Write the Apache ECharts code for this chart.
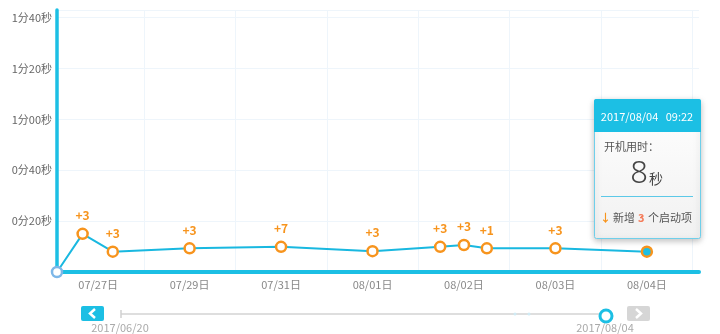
<!DOCTYPE html>
<html><head><meta charset="utf-8">
<script src="https://cdn.jsdelivr.net/npm/echarts@6/dist/echarts.min.js"></script>
<style>html,body{margin:0;padding:0;background:#fff}#c{width:720px;height:334px}</style>
</head><body><div id="c"></div>
<script>
// ---- data ----
const dayLabels = ['07/27日', '07/29日', '07/31日', '08/01日', '08/02日', '08/03日', '08/04日'];
const dayCenters = [0, 1, 2, 3, 4, 5, 6];
const dayBounds = [0.5, 1.5, 2.5, 3.5, 4.5, 5.5, 6.5];
// position of each boot along the day slots (slot index + offset within slot)
const bootPos = [-0.45, -0.17, 0.16, 1.0, 2.0, 3.0, 3.74, 4.0, 4.25, 5.0, 6.0];
const bootSeconds = [0, 15, 8, 9.3, 9.9, 8.2, 9.9, 10.6, 9.3, 9.3, 8];
const addedItems = [null, 3, 3, 3, 7, 3, 3, 3, 1, 3, 3];
const yTicks = [0, 20, 40, 60, 80, 100];
const timelineDates = ['2017/06/20', '2017/08/04'];
const tipDate = '2017/08/04';
const tipTime = '09:22';

const CYAN = '#1cbfe4';
const ORANGE = '#f7941d';
const FONT = '"Noto Sans CJK SC", "Noto Sans", sans-serif';

function fmtSec(v) {
  if (v === 0) return '';
  const m = Math.floor(v / 60), s = v % 60;
  return m + '分' + (s < 10 ? '0' + s : s) + '秒';
}

const lastIdx = bootPos.length - 1;
const seriesData = bootPos.map((x, i) => {
  const item = { value: [x, bootSeconds[i]] };
  if (i === 0) {
    item.symbolSize = 10;
    item.itemStyle = { color: '#fff', borderColor: '#7db7e8', borderWidth: 2.5 };
    item.label = { show: false };
  } else if (i === lastIdx) {
    item.itemStyle = { color: CYAN, borderColor: ORANGE, borderWidth: 2.5 };
  }
  return item;
});

const chart = echarts.init(document.getElementById('c'), null, { renderer: 'canvas' });

// tooltip-like card and timeline drawn as graphics
const cardX = 594, cardY = 99, cardW = 106, cardH = 139;
const graphics = [
  { type: 'rect', left: cardX, top: cardY, z: 100,
    shape: { width: cardW, height: cardH, r: 2 },
    style: { fill: new echarts.graphic.LinearGradient(0, 0, 0, 1, [{ offset: 0, color: '#ffffff' }, { offset: 1, color: '#f1f1f1' }]),
             stroke: '#6fcfea', lineWidth: 1, shadowBlur: 6, shadowColor: 'rgba(0,0,0,0.25)', shadowOffsetY: 2 } },
  { type: 'rect', left: cardX, top: cardY, z: 101, shape: { width: cardW + 1, height: 33, r: [2, 2, 0, 0] }, style: { fill: CYAN } },
  { type: 'text', x: cardX + cardW / 2, y: cardY + 18, z: 102,
    style: { text: tipDate + '   ' + tipTime, fill: '#fff', font: '11px ' + FONT, align: 'center', verticalAlign: 'middle' } },
  { type: 'text', x: cardX + 10, y: cardY + 48, z: 102,
    style: { text: '开机用时：', fill: '#555', font: '11px ' + FONT, verticalAlign: 'middle' } },
  { type: 'text', x: cardX + 54, y: cardY + 75, z: 102,
    style: { text: String(bootSeconds[lastIdx]), fill: '#444', font: '300 31px "Noto Sans", sans-serif', align: 'right', verticalAlign: 'middle' } },
  { type: 'text', x: cardX + 55, y: cardY + 80, z: 102,
    style: { text: '秒', fill: '#444', font: '14px ' + FONT, align: 'left', verticalAlign: 'middle' } },
  { type: 'line', z: 102, shape: { x1: cardX + 7, y1: cardY + 97.5, x2: cardX + 99, y2: cardY + 97.5 }, style: { stroke: '#5cc9e8', lineWidth: 1 } },
  { type: 'text', x: cardX + 6, y: cardY + 119, z: 102,
    style: { text: '↓', fill: ORANGE, font: 'bold 11px ' + FONT, verticalAlign: 'middle' } },
  { type: 'text', x: cardX + 19, y: cardY + 119, z: 102,
    style: { text: '新增', fill: '#555', font: '11px ' + FONT, verticalAlign: 'middle' } },
  { type: 'text', x: cardX + 44, y: cardY + 119, z: 102,
    style: { text: String(addedItems[lastIdx]), fill: '#f47c5a', font: 'bold 11px ' + FONT, verticalAlign: 'middle' } },
  { type: 'text', x: cardX + 54, y: cardY + 119, z: 102,
    style: { text: '个启动项', fill: '#555', font: '11px ' + FONT, verticalAlign: 'middle' } },

  // timeline
  { type: 'line', shape: { x1: 121, y1: 314, x2: 604, y2: 314 }, style: { stroke: '#dedede', lineWidth: 2 } },
  { type: 'line', shape: { x1: 121, y1: 310, x2: 121, y2: 318 }, style: { stroke: '#d0d0d0', lineWidth: 1.5 } },
  { type: 'circle', shape: { cx: 515, cy: 314, r: 1.5 }, style: { fill: '#cfeaf4' } },
  { type: 'circle', shape: { cx: 529, cy: 314, r: 1.5 }, style: { fill: '#cfeaf4' } },
  { type: 'rect', shape: { x: 81, y: 306, width: 23, height: 15, r: 2 }, style: { fill: CYAN } },
  { type: 'polyline', shape: { points: [[95, 309], [90, 313.5], [95, 318]] }, style: { stroke: '#fff', lineWidth: 2.5, fill: 'none' } },
  { type: 'rect', shape: { x: 627, y: 306, width: 23, height: 15, r: 2 }, style: { fill: '#d6d6d6' } },
  { type: 'polyline', shape: { points: [[636, 309], [641, 313.5], [636, 318]] }, style: { stroke: '#fff', lineWidth: 2.5, fill: 'none' } },
  { type: 'circle', shape: { cx: 606, cy: 316, r: 6 }, style: { fill: '#fff', stroke: CYAN, lineWidth: 3 } },
  { type: 'text', x: 120, y: 328, style: { text: timelineDates[0], fill: '#aaa', font: '11px ' + FONT, align: 'center', verticalAlign: 'middle' } },
  { type: 'text', x: 605, y: 328, style: { text: timelineDates[1], fill: '#aaa', font: '11px ' + FONT, align: 'center', verticalAlign: 'middle' } }
];

chart.setOption({
  animation: false,
  grid: { left: 57, right: 21, top: 10, bottom: 62 },
  xAxis: {
    type: 'value', min: -0.45, max: 6.57,
    axisLine: { onZero: false, lineStyle: { color: CYAN, width: 4 } },
    axisTick: { show: false, customValues: dayBounds },
    axisLabel: { customValues: dayCenters, color: '#888', fontSize: 11, fontFamily: FONT, margin: 7,
      formatter: v => dayLabels[Math.round(v)] },
    splitLine: { show: true, lineStyle: { color: '#eef5fb', width: 1 } }
  },
  yAxis: {
    type: 'value', min: 0, max: 103, interval: 20,
    axisLine: { show: true, onZero: false, lineStyle: { color: CYAN, width: 3.5 } },
    axisTick: { show: false },
    axisLabel: { color: '#666', fontSize: 11, fontFamily: FONT, margin: 5, formatter: fmtSec, showMaxLabel: false },
    splitLine: { show: true, lineStyle: { color: '#eef5fb', width: 1 } }
  },
  series: [{
    type: 'line',
    data: seriesData,
    symbol: 'circle', symbolSize: 10, showAllSymbol: true,
    lineStyle: { color: '#19b8e0', width: 2 },
    itemStyle: { color: '#fff', borderColor: ORANGE, borderWidth: 2.5 },
    label: { show: true, position: 'top', distance: 6, color: ORANGE, fontWeight: 'bold', fontSize: 12, fontFamily: FONT,
      formatter: p => addedItems[p.dataIndex] == null ? '' : '+' + addedItems[p.dataIndex] },
    z: 3
  }],
  graphic: graphics
});
</script>
</body></html>
